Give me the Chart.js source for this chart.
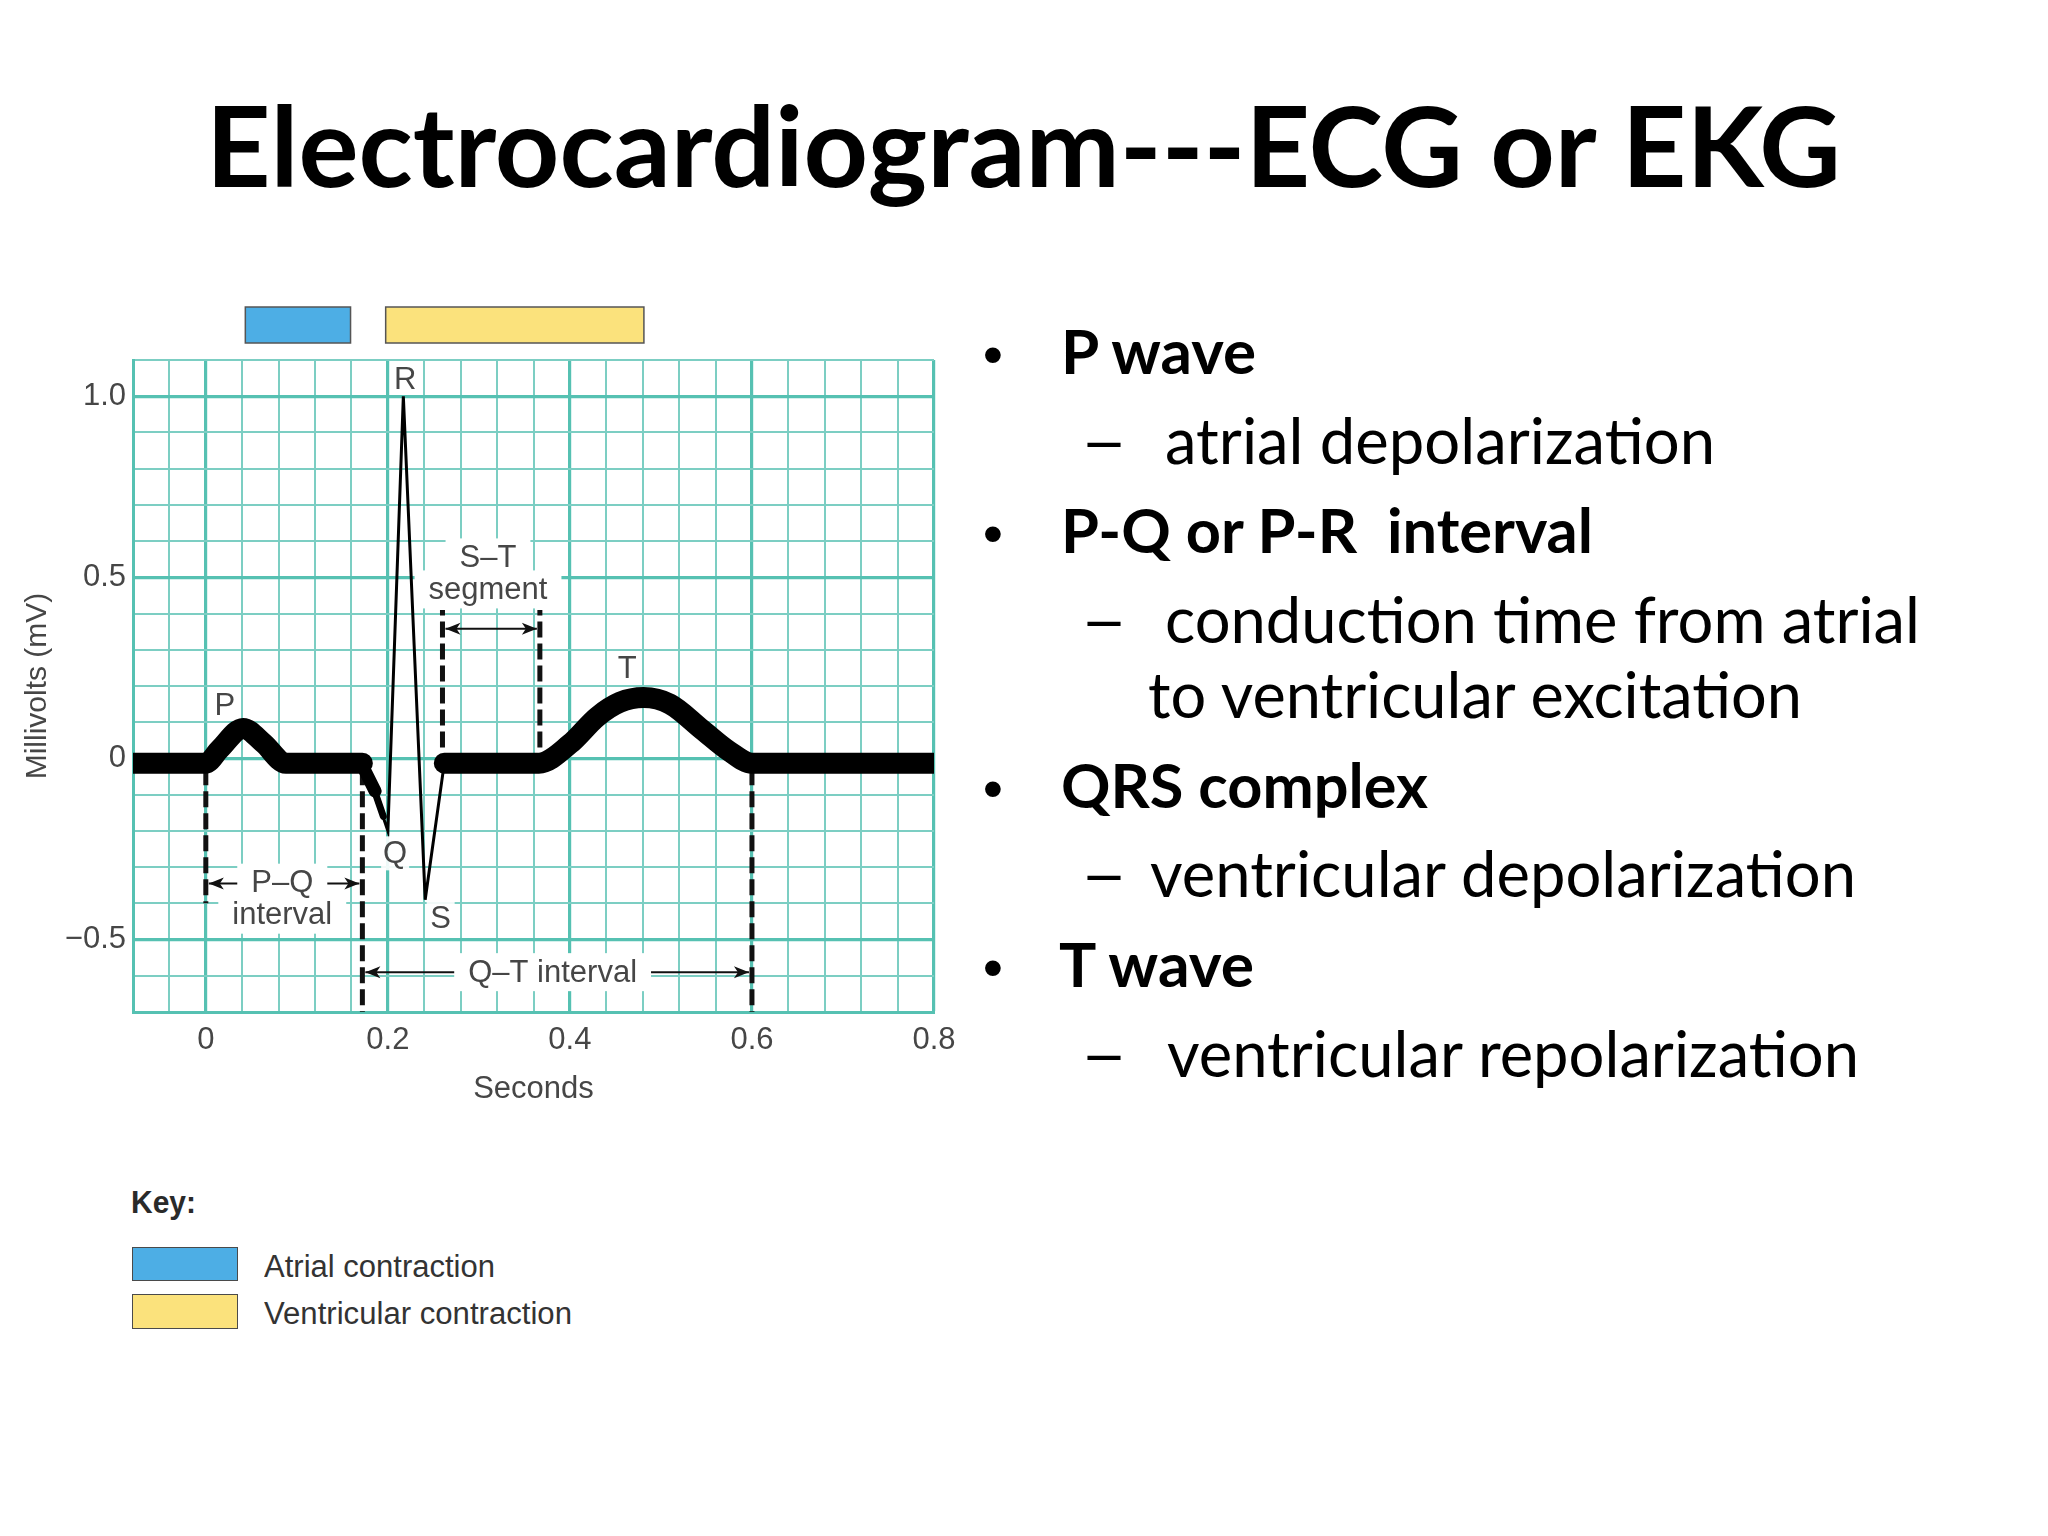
<!DOCTYPE html>
<html>
<head>
<meta charset="utf-8">
<script src="https://cdn.jsdelivr.net/npm/chart.js@4.4.1/dist/chart.umd.min.js"></script>
<style>
  html, body { margin:0; padding:0; background:#fff; }
  body { width:2048px; height:1536px; position:relative; overflow:hidden; }
  .t { position:absolute; white-space:pre; line-height:1; transform-origin:0 0; color:#000; }
  .probe { display:inline-block; width:0; height:0; }
  .slide { font-family:'Lato', sans-serif; }
  .title { font-weight:700; font-size:111px; }
  .head { font-weight:700; font-size:61px; }
  .sub { font-weight:400; font-size:63px; }
  .bul { font-family:'Liberation Sans', Arial, sans-serif; font-size:58px; }
  .key { font-family:'Liberation Sans', Arial, sans-serif; font-size:31px; color:#333; }
  .sw { position:absolute; box-sizing:border-box; border:1.5px solid #4a4a4a; }
  #ecg { position:absolute; left:0; top:280px; }
</style>
</head>
<body>
<div class="t slide title" data-x="206" data-b="187" data-w="1635">Electrocardiogram---ECG or EKG</div>

<div class="t bul" data-cx="993" data-b="374">•</div>
<div class="t slide head" data-x="1061" data-b="374" data-w="195">P wave</div>
<div class="t slide sub" data-x="1080" data-b="464" data-w="48">–</div>
<div class="t slide sub" data-x="1165" data-b="464" data-w="550">atrial depolarization</div>

<div class="t bul" data-cx="993" data-b="553">•</div>
<div class="t slide head" data-x="1061" data-b="553" data-w="532">P-Q or P-R  interval</div>
<div class="t slide sub" data-x="1080" data-b="643" data-w="48">–</div>
<div class="t slide sub" data-x="1165" data-b="643" data-w="755">conduction time from atrial</div>
<div class="t slide sub" data-x="1148" data-b="718" data-w="654">to ventricular excitation</div>

<div class="t bul" data-cx="993" data-b="808">•</div>
<div class="t slide head" data-x="1061" data-b="808" data-w="367">QRS complex</div>
<div class="t slide sub" data-x="1080" data-b="897" data-w="48">–</div>
<div class="t slide sub" data-x="1150" data-b="897" data-w="706">ventricular depolarization</div>

<div class="t bul" data-cx="993" data-b="987">•</div>
<div class="t slide head" data-x="1059" data-b="987" data-w="195">T wave</div>
<div class="t slide sub" data-x="1080" data-b="1077" data-w="48">–</div>
<div class="t slide sub" data-x="1167" data-b="1077" data-w="692">ventricular repolarization</div>

<canvas id="ecg" width="1000" height="842"></canvas>

<div class="t key" style="font-weight:700;color:#2a2a2a" data-x="131" data-b="1213" data-w="65">Key:</div>
<div class="sw" id="sw0" style="left:132px;top:1247px;width:106px;height:34px"></div>
<div class="sw" id="sw1" style="left:132px;top:1294px;width:106px;height:35px"></div>
<div class="t key" id="kl0" data-x="264" data-b="1277" data-w="231"></div>
<div class="t key" id="kl1" data-x="264" data-b="1324" data-w="308"></div>

<script>
// ---------------- data ----------------
const xTickValues = [0, 0.2, 0.4, 0.6, 0.8];
const xTickLabels = ['0', '0.2', '0.4', '0.6', '0.8'];
const yTickValues = [1.0, 0.5, 0, -0.5];
const yTickLabels = ['1.0', '0.5', '0', '\u22120.5'];

// thick trace: baseline + P wave (seconds, millivolts)
const pTraceTime = [-0.08, 0, 0.015, 0.041, 0.063, 0.088, 0.172];
const pTraceMv   = [-0.013, -0.013, 0.025, 0.083, 0.043, -0.013, -0.013];
// taper into Q
const qTaperTime = [0.172, 0.186];
const qTaperMv   = [-0.02, -0.09];
const qTaper2Time = [0.184, 0.195];
const qTaper2Mv   = [-0.08, -0.16];
// thin QRS complex
const qrsTime = [0.176, 0.200, 0.217, 0.241, 0.262];
const qrsMv   = [-0.02, -0.200, 1.000, -0.390, -0.013];
// thick trace: baseline + T wave
const tTraceTime = [0.262, 0.366, 0.40, 0.43, 0.455, 0.481, 0.51, 0.545, 0.575, 0.60, 0.80];
const tTraceMv   = [-0.013, -0.013, 0.04, 0.115, 0.155, 0.168, 0.15, 0.08, 0.02, -0.013, -0.013];

// dashed drop lines
const dropTime = [0, 0.172, 0.26, 0.367, 0.6];
const dropFrom = [-0.03, -0.03, 0.03, 0.03, -0.03];
const dropTo   = [-0.40, -0.70, 0.41, 0.41, -0.70];

// wave letters
const waveLabels = ['P', 'Q', 'R', 'S', 'T'];
const waveLabelTime = [0.021, 0.208, 0.219, 0.258, 0.463];
const waveLabelMv   = [0.146, -0.262, 1.045, -0.442, 0.248];

// intervals
const intervalText = [['P\u2013Q', 'interval'], ['S\u2013T', 'segment'], ['Q\u2013T interval']];
const intervalStart = [0, 0.26, 0.172];
const intervalEnd   = [0.172, 0.367, 0.6];
const intervalArrowMv = [-0.345, 0.358, -0.59];
const intervalTextTime = [0.084, 0.31, 0.381];
const intervalTextMv   = [-0.343, 0.555, -0.59];

// contraction bars / key
const contractionLabels = ['Atrial contraction', 'Ventricular contraction'];
const contractionStart = [0.0434, 0.1976];
const contractionEnd   = [0.159, 0.4813];
const contractionColors = ['#4daee5', '#fbe27c'];

// ---------------- helpers ----------------
const pts = (xs, ys) => xs.map((v, i) => ({x: v, y: ys[i]}));
function labelFor(v, values, labels) {
  for (let i = 0; i < values.length; i++) if (Math.abs(values[i] - v) < 1e-6) return labels[i];
  return '';
}
const isMult = (v, m) => Math.abs(v / m - Math.round(v / m)) < 1e-6;
const GRID_MAJOR = '#56c1b2', GRID_MINOR = '#7ccec3';
const TXT = '#464646';
const FONT = "'Liberation Sans', Arial, sans-serif";

Chart.defaults.font.family = FONT;
Chart.defaults.font.size = 31;
Chart.defaults.color = TXT;

const ecgPlugin = {
  id: 'ecgAnnotations',
  afterDatasetsDraw(chart) {
    const {ctx, chartArea, scales: {x, y}} = chart;
    ctx.save();
    // contraction bars above chart
    for (let i = 0; i < contractionStart.length; i++) {
      const a = x.getPixelForValue(contractionStart[i]);
      const b = x.getPixelForValue(contractionEnd[i]);
      ctx.fillStyle = contractionColors[i];
      ctx.fillRect(a, chartArea.top - 53, b - a, 36);
      ctx.strokeStyle = '#555';
      ctx.lineWidth = 1.5;
      ctx.strokeRect(a, chartArea.top - 53, b - a, 36);
    }
    // interval arrows
    ctx.strokeStyle = '#111';
    ctx.fillStyle = '#111';
    ctx.lineWidth = 2;
    const head = (xt, yy, dir) => {
      ctx.beginPath();
      ctx.moveTo(xt, yy);
      ctx.lineTo(xt - dir * 15, yy - 6);
      ctx.lineTo(xt - dir * 11, yy);
      ctx.lineTo(xt - dir * 15, yy + 6);
      ctx.closePath();
      ctx.fill();
    };
    for (let i = 0; i < intervalStart.length; i++) {
      const a = x.getPixelForValue(intervalStart[i]) + 3;
      const b = x.getPixelForValue(intervalEnd[i]) - 3;
      const yy = y.getPixelForValue(intervalArrowMv[i]);
      ctx.beginPath();
      ctx.moveTo(a, yy);
      ctx.lineTo(b, yy);
      ctx.stroke();
      head(a, yy, -1);
      head(b, yy, 1);
    }
    // interval text with white boxes (one per line)
    ctx.font = '31px ' + FONT;
    ctx.textAlign = 'center';
    ctx.textBaseline = 'middle';
    for (let i = 0; i < intervalText.length; i++) {
      const lines = intervalText[i];
      const cx = x.getPixelForValue(intervalTextTime[i]);
      const cy = y.getPixelForValue(intervalTextMv[i]);
      ctx.fillStyle = '#fff';
      lines.forEach((s, k) => {
        const w = ctx.measureText(s).width;
        ctx.fillRect(cx - w / 2 - 14, cy + 32 * k - 19, w + 28, 38);
      });
      ctx.fillStyle = TXT;
      lines.forEach((s, k) => ctx.fillText(s, cx, cy + 32 * k + 1));
    }
    // wave letters
    for (let i = 0; i < waveLabels.length; i++) {
      const cx = x.getPixelForValue(waveLabelTime[i]);
      const cy = y.getPixelForValue(waveLabelMv[i]);
      if (waveLabels[i] === 'Q' || waveLabels[i] === 'S') {
        ctx.fillStyle = 'rgba(255,255,255,0.9)';
        ctx.fillRect(cx - 14, cy - 17, 28, 34);
      }
      ctx.fillStyle = TXT;
      ctx.fillText(waveLabels[i], cx, cy + 1);
    }
    ctx.restore();
  }
};

const thick = {borderColor: '#000', borderWidth: 21, borderCapStyle: 'round', borderJoinStyle: 'round',
               cubicInterpolationMode: 'monotone', pointRadius: 0, fill: false};
const datasets = [
  Object.assign({label: 'P', data: pts(pTraceTime, pTraceMv), order: 1}, thick),
  Object.assign({label: 'T', data: pts(tTraceTime, tTraceMv), order: 1}, thick),
  {label: 'taper1', data: pts(qTaperTime, qTaperMv), borderColor: '#000', borderWidth: 13,
   borderCapStyle: 'round', pointRadius: 0, order: 2},
  {label: 'taper2', data: pts(qTaper2Time, qTaper2Mv), borderColor: '#000', borderWidth: 7,
   borderCapStyle: 'round', pointRadius: 0, order: 2},
  {label: 'QRS', data: pts(qrsTime, qrsMv), borderColor: '#000', borderWidth: 3,
   borderJoinStyle: 'miter', pointRadius: 0, tension: 0, order: 2}
];
dropTime.forEach((t, i) => {
  datasets.push({label: 'drop' + i, data: pts([t, t], [dropFrom[i], dropTo[i]]), borderColor: '#111',
    borderWidth: 5, borderDash: [16, 6], pointRadius: 0, order: 3});
});

new Chart(document.getElementById('ecg'), {
  type: 'line',
  data: {datasets},
  plugins: [ecgPlugin],
  options: {
    responsive: false,
    animation: false,
    events: [],
    layout: {padding: {top: 80, right: 66, left: 0, bottom: 0}},
    plugins: {legend: {display: false}, tooltip: {enabled: false}},
    scales: {
      x: {
        type: 'linear', min: -0.08, max: 0.8,
        afterBuildTicks: s => { const t = []; for (let k = 0; k <= 22; k++) t.push({value: +(-0.08 + 0.04 * k).toFixed(4)}); s.ticks = t; },
        afterFit: s => { s.height = 110; },
        ticks: {autoSkip: false, maxRotation: 0, padding: 10, color: TXT,
                callback: v => labelFor(v, xTickValues, xTickLabels)},
        grid: {drawTicks: false,
               color: c => isMult(c.tick.value, 0.2) ? GRID_MAJOR : GRID_MINOR,
               lineWidth: c => isMult(c.tick.value, 0.2) ? 3.2 : 2},
        border: {display: true, color: GRID_MAJOR, width: 3},
        title: {display: true, text: 'Seconds', color: TXT, font: {size: 31}, padding: {top: 0, bottom: 14}}
      },
      y: {
        type: 'linear', min: -0.7, max: 1.1,
        afterBuildTicks: s => { const t = []; for (let k = 0; k <= 18; k++) t.push({value: +(-0.7 + 0.1 * k).toFixed(4)}); s.ticks = t; },
        afterFit: s => { s.width = 133; },
        ticks: {autoSkip: false, padding: 7, color: TXT,
                callback: v => labelFor(v, yTickValues, yTickLabels)},
        grid: {drawTicks: false,
               color: c => isMult(c.tick.value, 0.5) ? GRID_MAJOR : GRID_MINOR,
               lineWidth: c => isMult(c.tick.value, 0.5) ? 3.2 : 2},
        border: {display: true, color: GRID_MAJOR, width: 3},
        title: {display: true, text: 'Millivolts (mV)', color: TXT, font: {size: 30}, padding: {top: 20, bottom: 0}}
      }
    }
  }
});

// key
contractionLabels.forEach((s, i) => {
  document.getElementById('kl' + i).textContent = s;
  document.getElementById('sw' + i).style.background = contractionColors[i];
});

// text placement by baseline and fitted width
function layoutText() {
  document.querySelectorAll('.t').forEach(el => {
    if (!el.querySelector('.probe')) el.insertAdjacentHTML('beforeend', '<span class="probe"></span>');
    el.style.transform = 'none';
    el.style.left = '0px';
    el.style.top = '0px';
    const r = el.getBoundingClientRect();
    const pr = el.querySelector('.probe').getBoundingClientRect();
    const base = pr.top - r.top;
    const natW = pr.left - r.left;
    let sx = 1;
    if (el.dataset.w) sx = (+el.dataset.w) / natW;
    const left = el.dataset.cx ? (+el.dataset.cx - natW / 2) : +el.dataset.x;
    el.style.left = left + 'px';
    el.style.top = (+el.dataset.b - base) + 'px';
    if (sx !== 1) el.style.transform = 'scaleX(' + sx + ')';
  });
}
layoutText();
if (document.fonts && document.fonts.ready) document.fonts.ready.then(layoutText);
</script>
</body>
</html>
